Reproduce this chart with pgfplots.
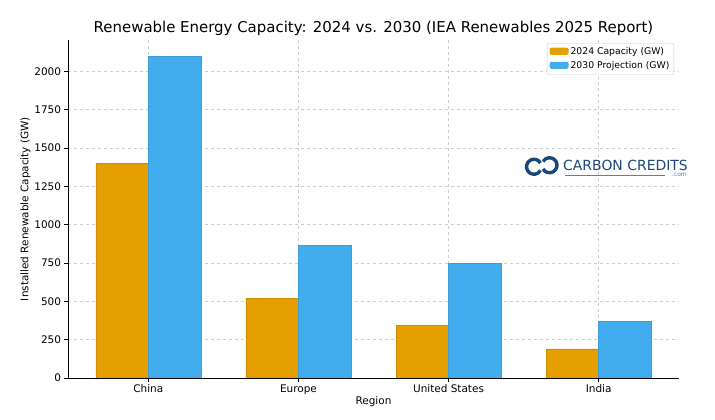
\documentclass[border=0pt]{standalone}
\usepackage{pgfplots}
\pgfplotsset{compat=1.18}
\usepackage{fontspec}
\setmainfont{DejaVu Sans}
\definecolor{cap24}{RGB}{230,159,0}
\definecolor{proj30}{RGB}{66,173,238}
\definecolor{gridgray}{RGB}{205,205,205}
\definecolor{logoblue}{RGB}{28,72,120}
\begin{document}
\begin{tikzpicture}
\useasboundingbox (-68bp,-42bp) rectangle (647bp,378bp);
\begin{axis}[
  scale only axis,
  width=611bp, height=338bp,
  xmin=-0.535, xmax=3.535,
  ymin=0, ymax=2205,
  xtick={0,1,2,3},
  xticklabels={China,Europe,United States,India},
  ytick={0,250,500,750,1000,1250,1500,1750,2000},
  /pgf/number format/assume math mode=true,
  /pgf/number format/1000 sep={},
  ticklabel style={font=\fontsize{10.5}{12}\selectfont, text=black},
  axis x line*=bottom, axis y line*=left,
  axis line style={black, line width=0.8pt},
  tick style={black, line width=0.8pt},
  major tick length=3.5bp,
  tick align=outside,
  xtick pos=bottom, ytick pos=left,
  grid=major,
  major grid style={gridgray, dashed, line width=0.5pt},
  xlabel={Region},
  ylabel={Installed Renewable Capacity (GW)},
  label style={font=\fontsize{10.5}{12}\selectfont},
  xlabel style={yshift=5bp},
  ylabel style={yshift=-3bp},
  title={Renewable Energy Capacity: 2024 vs. 2030 (IEA Renewables 2025 Report)},
  title style={font=\fontsize{15}{17}\selectfont, yshift=-5bp},
  ybar, bar width=0.35,
  legend style={at={(0.992,0.991)}, anchor=north east, font=\fontsize{9.3}{11}\selectfont,
    draw=gridgray, rounded corners=2pt, row sep=1.5pt, inner sep=2.5pt},
  legend cell align=left,
  legend image code/.code={\draw[#1, draw=none] (0cm,-0.1cm) rectangle (0.67cm,0.15cm);},
]
\addplot[fill=cap24, draw=cap24!90!black, line width=0.4pt, bar shift=-0.175]
  coordinates {(0,1400) (1,520) (2,345) (3,190)};
\addlegendentry{2024 Capacity (GW)}
\addplot[fill=proj30, draw=proj30!90!black, line width=0.4pt, bar shift=0.175]
  coordinates {(0,2100) (1,865) (2,750) (3,370)};
\addlegendentry{2030 Projection (GW)}
\end{axis}
% Carbon Credits mark
\begin{scope}[shift={(459bp,212bp)}]
  \draw[logoblue, line width=3.4bp] (13.5bp,3bp) arc[start angle=30, end angle=330, radius=7.5bp];
  \draw[logoblue, line width=3.4bp] (16bp,-3bp) arc[start angle=210, end angle=510, radius=7.5bp];
  \node[anchor=west, text=logoblue, inner sep=0pt] at (36bp,1bp) {\fontsize{14}{16}\selectfont CARBON CREDITS};
  \draw[logoblue!70, line width=0.5pt] (38bp,-9bp) -- (138bp,-9bp);
  \node[anchor=east, text=logoblue!70, inner sep=0pt] at (160bp,-9bp) {\fontsize{6}{7}\selectfont .com};
\end{scope}
\end{tikzpicture}
\end{document}
